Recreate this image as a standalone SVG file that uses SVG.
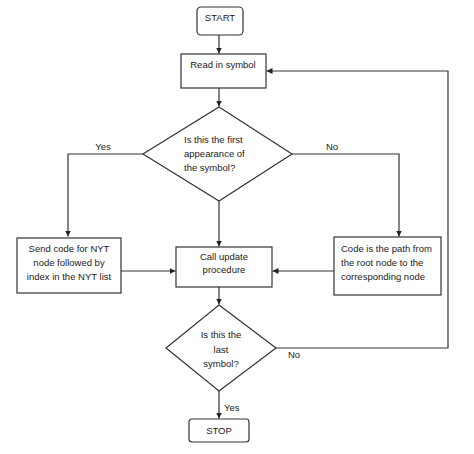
<svg xmlns="http://www.w3.org/2000/svg" width="474" height="454" viewBox="0 0 474 454">
<defs>
<marker id="ah" markerWidth="6" markerHeight="6" refX="6" refY="3" orient="auto" markerUnits="userSpaceOnUse">
<path d="M0,0 L6,3 L0,6 z" fill="#222"/>
</marker>
<style>
.s{fill:#fff;stroke:#333;stroke-width:1.2}
.c{fill:none;stroke:#333;stroke-width:1.2}
text{font-family:"Liberation Sans",Arial,sans-serif;font-size:9.5px;fill:#222}
.m{text-anchor:middle}
</style>
</defs>
<rect width="474" height="454" fill="#fff"/>
<g id="connectors">
<path class="c" d="M219,35 V53.5" marker-end="url(#ah)"/>
<path class="c" d="M219,88 V106.5" marker-end="url(#ah)"/>
<path class="c" d="M143,154 H68 V236.5" marker-end="url(#ah)"/>
<path class="c" d="M292,154 H399 V236.5" marker-end="url(#ah)"/>
<path class="c" d="M219,201 V246.5" marker-end="url(#ah)"/>
<path class="c" d="M121,271 H175.5" marker-end="url(#ah)"/>
<path class="c" d="M334,271 H272.5" marker-end="url(#ah)"/>
<path class="c" d="M219,287 V304.5" marker-end="url(#ah)"/>
<path class="c" d="M276,348 H448 V71 H266.5" marker-end="url(#ah)"/>
<path class="c" d="M219,391 V418.5" marker-end="url(#ah)"/>
<text x="103" y="150" class="m">Yes</text>
<text x="332" y="150" class="m">No</text>
<text x="294" y="358" class="m">No</text>
<text x="224" y="411">Yes</text>
</g>
<g id="start">
<rect class="s" x="197" y="7" width="46" height="28" rx="4"/>
<text x="220" y="21" class="m">START</text>
</g>
<g id="read">
<rect class="s" x="181" y="54" width="85" height="34"/>
<text x="223" y="68" class="m">Read in symbol</text>
</g>
<g id="first">
<polygon class="s" points="219,107 292,154 219,201 143,154"/>
<text x="184" y="143">Is this the first</text>
<text x="184" y="157">appearance of</text>
<text x="184" y="171">the symbol?</text>
</g>
<g id="send">
<rect class="s" x="17" y="238" width="104" height="55"/>
<text x="69" y="252" class="m">Send code for NYT</text>
<text x="69" y="266" class="m">node followed by</text>
<text x="69" y="280" class="m">index in the NYT list</text>
</g>
<g id="update">
<rect class="s" x="176" y="247" width="96" height="40"/>
<text x="224" y="260" class="m">Call update</text>
<text x="224" y="273" class="m">procedure</text>
</g>
<g id="code">
<rect class="s" x="334" y="237" width="107" height="58"/>
<text x="341" y="252">Code is the path from</text>
<text x="341" y="266">the root node to the</text>
<text x="341" y="280">corresponding node</text>
</g>
<g id="last">
<polygon class="s" points="219,305 276,348 219,391 166,348"/>
<text x="221" y="338" class="m">Is this the</text>
<text x="221" y="353" class="m">last</text>
<text x="221" y="367" class="m">symbol?</text>
</g>
<g id="stop">
<rect class="s" x="189" y="419" width="60" height="23" rx="3"/>
<text x="219" y="434" class="m">STOP</text>
</g>
</svg>
